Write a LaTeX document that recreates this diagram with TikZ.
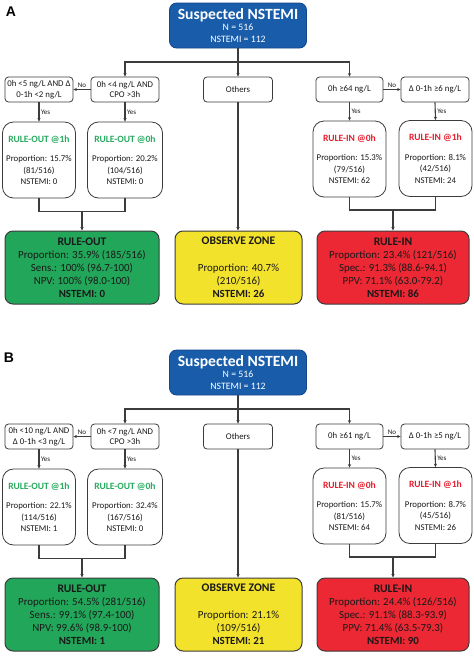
\documentclass[tikz,border=0pt]{standalone}
\usepackage{fontspec}
\setmainfont{Carlito}
\newfontfamily\panelfont{Liberation Sans}
\usetikzlibrary{arrows.meta}
\definecolor{linec}{RGB}{60,60,60}
\definecolor{topblue}{RGB}{24,92,170}
\definecolor{topblueb}{RGB}{20,70,140}
\definecolor{okgreen}{RGB}{34,166,90}
\definecolor{okgreent}{RGB}{40,170,95}
\definecolor{zoneyel}{RGB}{243,226,44}
\definecolor{inred}{RGB}{236,40,52}
\definecolor{inredt}{RGB}{232,30,45}
\definecolor{txt}{RGB}{25,25,25}
\tikzset{
  conn/.style={draw=linec, line width=1.1pt},
  arr/.style={conn, -{Stealth[length=3.5pt,width=3.2pt]}},
  topbox/.style={draw=topblueb, fill=topblue, rounded corners=7pt, line width=0.8pt, minimum width=137pt, minimum height=45pt, align=center, text=white, inner sep=0pt},
  decbox/.style={draw=linec, fill=white, rounded corners=3.5pt, line width=0.8pt, minimum height=25pt, align=center, text=txt, inner sep=1pt, font=\fontsize{8.8}{10.8}\selectfont},
  outbox/.style={draw=linec, fill=white, rounded corners=11pt, line width=0.8pt, minimum height=76pt, minimum width=73pt, align=center, text=txt, inner sep=1pt, font=\fontsize{8.8}{11.5}\selectfont},
  bigbox/.style={draw=linec, rounded corners=8pt, line width=1pt, minimum height=73pt, align=center, text=txt, inner sep=1pt, font=\fontsize{10.9}{13}\selectfont},
  yeslab/.style={font=\fontsize{7}{8}\selectfont, text=txt, anchor=west, inner sep=1.5pt},
  nolab/.style={font=\fontsize{7}{8}\selectfont, text=txt, anchor=south, inner sep=1.5pt},
  plab/.style={font=\panelfont\bfseries\fontsize{14}{16}\selectfont, text=black, inner sep=0pt}
}
\newcommand{\gtitle}[1]{{\fontsize{9.6}{11.5}\selectfont\color{okgreent}\bfseries #1}}
\newcommand{\rtitle}[1]{{\fontsize{9.6}{11.5}\selectfont\color{inredt}\bfseries #1}}
\newcommand{\btitle}[1]{{\fontsize{11.6}{13}\selectfont\bfseries #1}}
\begin{document}
\begin{tikzpicture}[x=1pt,y=-1pt]
\useasboundingbox (0,0) rectangle (474,657);
% ================= Panel A =================
\begin{scope}
\node[plab] (labA) at (11,12) {A};
\node[topbox] (topA) at (238,25.5) {{\fontsize{15.6}{17}\selectfont\bfseries Suspected NSTEMI}\\[-1pt]{\fontsize{9.8}{12}\selectfont N = 516}\\{\fontsize{9.8}{12}\selectfont NSTEMI = 112}};
\node[decbox, minimum width=68pt] (d1A) at (39,89.5) {0h <5 ng/L AND Δ\\0-1h <2 ng/L};
\node[decbox, minimum width=68pt] (d2A) at (125,89.5) {0h <4 ng/L AND\\CPO >3h};
\node[decbox, minimum width=69pt] (othA) at (238,89.5) {Others};
\node[decbox, minimum width=67pt] (d3A) at (349.5,89.5) {0h ≥64 ng/L};
\node[decbox, minimum width=68pt] (d4A) at (435,89.5) {Δ 0-1h ≥6 ng/L};
\node[outbox] (o1A) at (39,160) {\gtitle{RULE-OUT @1h}\\[8pt]Proportion: 15.7\%\\(81/516)\\NSTEMI: 0};
\node[outbox, minimum width=75pt] (o2A) at (125,160) {\gtitle{RULE-OUT @0h}\\[8pt]Proportion: 20.2\%\\(104/516)\\NSTEMI: 0};
\node[outbox] (o3A) at (349.5,159) {\rtitle{RULE-IN @0h}\\[8pt]Proportion: 15.3\%\\(79/516)\\NSTEMI: 62};
\node[outbox] (o4A) at (435.5,158.5) {\rtitle{RULE-IN @1h}\\[8pt]Proportion: 8.1\%\\(42/516)\\NSTEMI: 24};
\node[bigbox, fill=okgreen, minimum width=154pt] (roA) at (82,267.5) {\btitle{RULE-OUT}\\Proportion: 35.9\% (185/516)\\Sens.: 100\% (96.7-100)\\NPV: 100\% (98.0-100)\\{\bfseries NSTEMI: 0}};
\node[bigbox, fill=zoneyel, minimum width=127pt] (obsA) at (238.5,267.5) {\btitle{OBSERVE ZONE}\\[14pt]Proportion: 40.7\%\\(210/516)\\{\bfseries NSTEMI: 26}};
\node[bigbox, fill=inred, minimum width=152pt] (riA) at (393,267.5) {\btitle{RULE-IN}\\Proportion: 23.4\% (121/516)\\Spec.: 91.3\% (88.6-94.1)\\PPV: 71.1\% (63.0-79.2)\\{\bfseries NSTEMI: 86}};
\coordinate (jtA) at (238,62);
\coordinate (jlA) at (82,211.5);
\coordinate (jrA) at (393,210);
\draw[conn] (topA.south) -- (jtA);
\draw[arr] (jtA) -| (d2A.north);
\draw[arr] (jtA) -| (d3A.north);
\draw[arr] (jtA) -- (othA.north);
\draw[arr] (d2A.west) -- node[nolab] {No} (d1A.east);
\draw[arr] (d3A.east) -- node[nolab] {No} (d4A.west);
\draw[arr] (d1A.south) -- node[yeslab] {Yes} (o1A.north);
\draw[arr] (d2A.south) -- node[yeslab] {Yes} (o2A.north);
\draw[arr] (d3A.south) -- node[yeslab] {Yes} (o3A.north);
\draw[arr] (d4A.south) -- node[yeslab] {Yes} (o4A.north);
\draw[conn] (o1A.south) |- (jlA) -| (o2A.south);
\draw[arr] (jlA) -- (roA.north);
\draw[conn] (o3A.south) |- (jrA) -| (o4A.south);
\draw[arr] (jrA) -- (riA.north);
\draw[arr] (othA.south) -- (othA.south |- obsA.north);
\end{scope}
% ================= Panel B =================
\begin{scope}[yshift=-347pt]
\node[plab] (labB) at (9,11) {B};
\node[topbox] (topB) at (238,25.5) {{\fontsize{15.6}{17}\selectfont\bfseries Suspected NSTEMI}\\[-1pt]{\fontsize{9.8}{12}\selectfont N = 516}\\{\fontsize{9.8}{12}\selectfont NSTEMI = 112}};
\node[decbox, minimum width=68pt] (d1B) at (39,89.5) {0h <10 ng/L AND\\Δ 0-1h <3 ng/L};
\node[decbox, minimum width=68pt] (d2B) at (125,89.5) {0h <7 ng/L AND\\CPO >3h};
\node[decbox, minimum width=69pt] (othB) at (238,89.5) {Others};
\node[decbox, minimum width=67pt] (d3B) at (349.5,89.5) {0h ≥61 ng/L};
\node[decbox, minimum width=68pt] (d4B) at (435,89.5) {Δ 0-1h ≥5 ng/L};
\node[outbox] (o1B) at (39,160) {\gtitle{RULE-OUT @1h}\\[8pt]Proportion: 22.1\%\\(114/516)\\NSTEMI: 1};
\node[outbox, minimum width=75pt] (o2B) at (125,160) {\gtitle{RULE-OUT @0h}\\[8pt]Proportion: 32.4\%\\(167/516)\\NSTEMI: 0};
\node[outbox] (o3B) at (349.5,159) {\rtitle{RULE-IN @0h}\\[8pt]Proportion: 15.7\%\\(81/516)\\NSTEMI: 64};
\node[outbox] (o4B) at (435.5,158.5) {\rtitle{RULE-IN @1h}\\[8pt]Proportion: 8.7\%\\(45/516)\\NSTEMI: 26};
\node[bigbox, fill=okgreen, minimum width=154pt] (roB) at (82,267.5) {\btitle{RULE-OUT}\\Proportion: 54.5\% (281/516)\\Sens.: 99.1\% (97.4-100)\\NPV: 99.6\% (98.9-100)\\{\bfseries NSTEMI: 1}};
\node[bigbox, fill=zoneyel, minimum width=127pt] (obsB) at (238.5,267.5) {\btitle{OBSERVE ZONE}\\[14pt]Proportion: 21.1\%\\(109/516)\\{\bfseries NSTEMI: 21}};
\node[bigbox, fill=inred, minimum width=152pt] (riB) at (393,267.5) {\btitle{RULE-IN}\\Proportion: 24.4\% (126/516)\\Spec.: 91.1\% (88.3-93.9)\\PPV: 71.4\% (63.5-79.3)\\{\bfseries NSTEMI: 90}};
\coordinate (jtB) at (238,62);
\coordinate (jlB) at (82,211.5);
\coordinate (jrB) at (393,210);
\draw[conn] (topB.south) -- (jtB);
\draw[arr] (jtB) -| (d2B.north);
\draw[arr] (jtB) -| (d3B.north);
\draw[arr] (jtB) -- (othB.north);
\draw[arr] (d2B.west) -- node[nolab] {No} (d1B.east);
\draw[arr] (d3B.east) -- node[nolab] {No} (d4B.west);
\draw[arr] (d1B.south) -- node[yeslab] {Yes} (o1B.north);
\draw[arr] (d2B.south) -- node[yeslab] {Yes} (o2B.north);
\draw[arr] (d3B.south) -- node[yeslab] {Yes} (o3B.north);
\draw[arr] (d4B.south) -- node[yeslab] {Yes} (o4B.north);
\draw[conn] (o1B.south) |- (jlB) -| (o2B.south);
\draw[arr] (jlB) -- (roB.north);
\draw[conn] (o3B.south) |- (jrB) -| (o4B.south);
\draw[arr] (jrB) -- (riB.north);
\draw[arr] (othB.south) -- (othB.south |- obsB.north);
\end{scope}
\end{tikzpicture}
\end{document}
